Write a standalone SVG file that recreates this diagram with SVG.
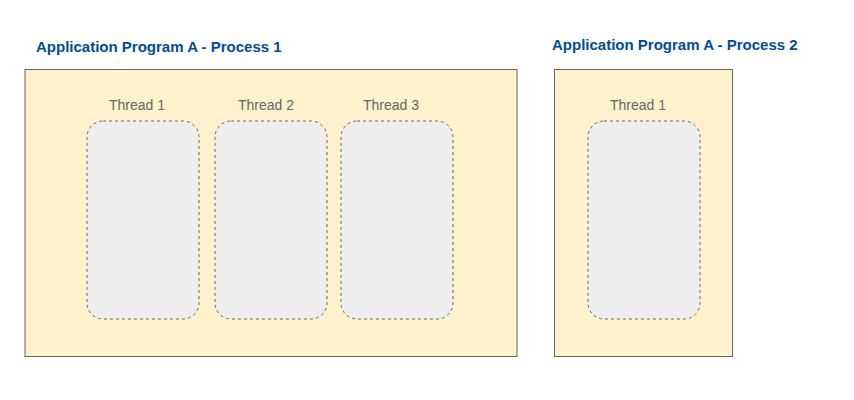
<svg xmlns="http://www.w3.org/2000/svg" width="854" height="400" viewBox="0 0 854 400">
<style>
.proc{fill:#fff2cc;stroke:#666666;stroke-width:1}
.thr{fill:#eeeeee;stroke:#666666;stroke-width:1;stroke-dasharray:3 3}
.lbl{font-family:"Liberation Sans",Arial,sans-serif;font-size:14px;fill:#666666;text-anchor:middle}
.title{font-family:"Liberation Sans",Arial,sans-serif;font-size:15px;font-weight:bold;fill:#004c99}
</style>
<rect width="854" height="400" fill="#ffffff"/>
<g id="process1">
<text class="title" x="36" y="52">Application Program A - Process 1</text>
<rect class="proc" x="25" y="69.5" width="492" height="287"/>
</g>
<g id="p1-thread1"><text class="lbl" x="137" y="110">Thread 1</text><rect class="thr" x="87" y="121" width="112" height="198" rx="16"/></g>
<g id="p1-thread2"><text class="lbl" x="266" y="110">Thread 2</text><rect class="thr" x="215" y="121" width="112" height="198" rx="16"/></g>
<g id="p1-thread3"><text class="lbl" x="391" y="110">Thread 3</text><rect class="thr" x="341" y="121" width="112" height="198" rx="16"/></g>
<g id="process2">
<text class="title" x="552" y="50">Application Program A - Process 2</text>
<rect class="proc" x="554.5" y="69.5" width="178" height="287"/>
</g>
<g id="p2-thread1"><text class="lbl" x="638" y="110">Thread 1</text><rect class="thr" x="588" y="121" width="112" height="198" rx="16"/></g>
<g id="connectors"/>
</svg>
